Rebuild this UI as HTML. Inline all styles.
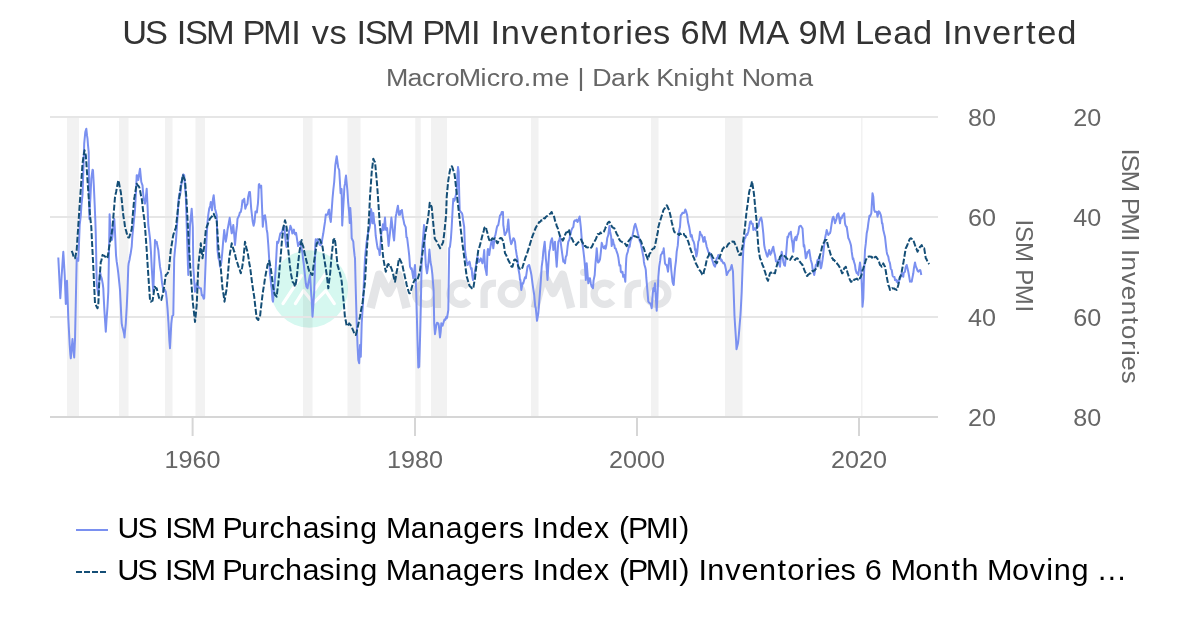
<!DOCTYPE html>
<html><head><meta charset="utf-8"><style>
html,body{margin:0;padding:0;background:#fff;}
svg{display:block;font-family:"Liberation Sans", sans-serif;will-change:transform;}
</style></head><body>
<svg width="1200" height="630" viewBox="0 0 1200 630">
<rect width="1200" height="630" fill="#fff"/>
<g>
<circle cx="309.3" cy="289" r="38.7" fill="#d6f8f0"/>
<g stroke="#ffffff" stroke-width="3.2" stroke-linecap="round" stroke-linejoin="round" fill="none">
<polyline points="283,303.6 301.4,275.7"/>
<polyline points="295.4,303.6 303.6,290.7 312.1,301.4"/>
<polyline points="314.6,290 325,274.3"/>
<polyline points="314.6,302 325.7,290.7 334.3,303.6"/>
</g>
<g fill="none" stroke="#e4e5e7" stroke-width="7.3" stroke-linejoin="round" stroke-linecap="butt"><polyline stroke-width="8.6" points="370.6,308.0 379.1,274.7 388.6,293.0 398.1,274.7 406.6,308.0"/><circle cx="426.2" cy="293.75" r="10.60"/><line x1="437.4" y1="279.5" x2="437.4" y2="308.0"/><path d="M468.6,286.7 A10.60,10.60 0 1 0 468.6,300.8"/><path d="M484.1,308.0 L484.1,292.6 Q484.1,283.1 496.0,283.1"/><circle cx="511.8" cy="293.75" r="10.60"/><polyline stroke-width="8.6" points="535.1,308.0 543.6,274.7 553.1,293.0 562.6,274.7 571.1,308.0"/><line x1="583.6" y1="279.5" x2="583.6" y2="308.0"/><circle cx="583.6" cy="272.3" r="3.6" fill="#e4e5e7" stroke="none"/><path d="M612.6,286.7 A10.60,10.60 0 1 0 612.6,300.8"/><path d="M628.1,308.0 L628.1,293.4 Q628.1,283.1 641.0,283.1"/><circle cx="657.2" cy="293.75" r="10.60"/></g>
</g>
<rect x="67" y="118" width="12.0" height="298" fill="#000" fill-opacity="0.05"/><rect x="119" y="118" width="9.6" height="298" fill="#000" fill-opacity="0.05"/><rect x="165" y="118" width="7.6" height="298" fill="#000" fill-opacity="0.05"/><rect x="195.4" y="118" width="9.6" height="298" fill="#000" fill-opacity="0.05"/><rect x="303" y="118" width="9.6" height="298" fill="#000" fill-opacity="0.05"/><rect x="347.4" y="118" width="13.2" height="298" fill="#000" fill-opacity="0.05"/><rect x="415.2" y="118" width="5.6" height="298" fill="#000" fill-opacity="0.05"/><rect x="431" y="118" width="16.0" height="298" fill="#000" fill-opacity="0.05"/><rect x="531" y="118" width="7.6" height="298" fill="#000" fill-opacity="0.05"/><rect x="651" y="118" width="7.6" height="298" fill="#000" fill-opacity="0.05"/><rect x="725" y="118" width="17.6" height="298" fill="#000" fill-opacity="0.05"/><rect x="861" y="118" width="1.6" height="298" fill="#000" fill-opacity="0.05"/>
<g stroke="#e6e6e6" stroke-width="2">
<line x1="50" y1="117" x2="938" y2="117"/><line x1="50" y1="217" x2="938" y2="217"/><line x1="50" y1="317" x2="938" y2="317"/>
</g>
<line x1="50" y1="417" x2="938" y2="417" stroke="#d6d6d6" stroke-width="2"/>
<g stroke="#d6d6d6" stroke-width="2">
<line x1="192.6" y1="417" x2="192.6" y2="436"/><line x1="415" y1="417" x2="415" y2="436"/><line x1="637" y1="417" x2="637" y2="436"/><line x1="859" y1="417" x2="859" y2="436"/>
</g>
<polyline points="58.3,257.5 59.23,275.98 60.3,298.3 61.08,286.17 61.7,275 62.93,256.73 63.3,251.7 63.86,260.45 64.7,275 65.8,304 66.63,286.39 67,280.8 67.56,296.48 68.3,318 69.7,345 70.34,354.49 70.8,358.3 71.26,353.71 72.5,339 73.12,347.36 74.2,357.5 75,340 75.89,297.43 76.7,258.3 77.75,260.57 78.3,260.8 78.67,251.58 79.7,225 80.8,215.3 81.45,204.87 82.5,195 83.3,172.17 84.2,143.7 85.3,132 86.3,128.7 87.01,135.39 87.5,138.7 87.93,144.29 88.7,152 89.4,219 89.78,208.23 90.4,198 91.3,178.7 92.56,169.67 93,170.3 93.8,185 94.7,205 95.34,221.03 95.8,235 96.27,259.26 96.7,283.3 97.19,287.39 98.3,295 99.04,284.73 100,271.7 100.9,276.01 101.7,278.3 102.75,283.82 103.3,288.3 103.67,296.44 104.2,306.7 104.6,313.58 105.8,331.7 106.45,321.05 107.5,306.7 108.3,291.7 109.23,239.08 109.6,214.3 110.5,232 111.08,237.55 111.5,240 112.01,239.88 112.5,236 112.93,230.23 113.5,225 113.86,221.12 114.3,219 115,232 116,255 116.7,261.7 117.56,267.41 118.3,273.3 119.42,284.09 120,290 121.27,315.85 121.7,323.3 122.19,326.2 123.12,329.79 124.05,333.67 124.5,337.5 124.97,331.51 125.8,323.3 126.82,305.2 127.5,290 128.3,266.7 128.68,263.2 129.6,259.43 130,256.7 130.53,254.28 131.7,246.7 132.38,235.94 133.3,227 134.23,217.76 135,210 136.08,189.96 136.7,175.3 137.94,175.71 138.3,180 138.86,175.75 140,168.7 140.71,175.83 141.3,182 142.5,185.3 143.7,200 144.42,200.74 145,203.7 146.27,193.29 146.7,188.7 147.5,205.3 148.3,225 149.05,230.75 150,238.3 150.9,250.99 151.7,266.7 152.75,284.46 153.3,291.7 153.68,281.28 154.6,253.56 155,240 155.53,242.83 156.7,241.7 157.38,245.82 158.3,250 159.23,259.37 160,266.7 161.09,272.85 162.01,282.93 162.94,287.98 163.3,291.7 163.86,290.98 164.79,289.68 165.8,291.7 166.64,298.37 167.5,308.3 168.49,323.35 169.42,341.08 170,348.3 171.27,323.87 171.7,320 172.2,316.11 173.3,315 174.2,258.3 174.98,249.9 175.9,241.34 176.7,230 177.75,213.6 178.3,203.7 178.68,198.78 179.61,193.22 180,195.3 180.53,191.98 181.46,183.45 182.5,177 183.31,174.4 184.2,175.3 185.16,188.89 185.8,195.3 186.7,225 187.94,265.51 188.3,275 188.87,258.6 190,225 190.72,218.51 191.7,208.7 192.8,227 193.3,266.7 194.42,283.89 195,291.7 196.27,287.96 196.7,283.3 197.2,285.05 198.13,286.29 199.05,287.74 200,288.3 200.9,288.21 201.83,295.26 202.5,295 203.68,298.82 204.2,298.3 204.61,288.95 205.8,258.3 206.46,241.05 207.5,222 208.31,214.63 209.2,208.7 210.16,206.01 210.8,202 212,210.3 212.94,199.09 213.7,195.3 215,208.7 215.72,211.2 216.7,215.3 217.5,250 218.5,258.3 219.42,260.75 220,266.7 221.28,262.97 221.7,258.3 222.2,253.5 223.13,241.89 224.2,230 224.98,236.22 225.8,241.7 226.83,235.64 227.5,230 228.68,223.63 229.7,217.8 230.8,227 231.7,233.3 232.39,231.56 233.3,225 234.24,235 235,245 236.09,232.85 237.02,225.44 237.5,218.7 237.94,217.85 239.2,215.3 239.8,212.66 240.8,212 241.65,207.68 242.5,200.3 243.5,201.7 244.2,198.7 245.3,208.7 246.28,205.77 247.5,203.7 248.13,197.16 249.2,192 250,192 251.2,208.6 251.83,214 252.6,221 253.6,225.7 254.5,221.9 255.5,211.4 256.46,211.85 256.9,212.4 257.39,207.71 257.9,203.8 258.32,197.27 258.8,184.8 259.24,184.04 260.2,187.6 261.2,185.7 262.1,208.6 262.8,226.7 263.8,216.2 265,215.2 266,221.9 266.65,229.21 267.4,233.3 268.3,245 269.43,262.88 270,275 270.35,276.51 271.28,286.02 271.7,288.3 272.5,300 273,301.7 274.2,288.3 274.98,279.52 275.8,266.7 276.4,255 277.1,241.7 277.76,243.41 278.3,242.3 278.69,241.13 279.61,236.68 280.3,233.4 281.5,232.8 282.39,230.2 283.1,227.7 284.2,226 285.3,238 286.1,244.89 286.5,247 287.02,245.67 287.5,245 287.95,241.5 289.1,230.9 289.8,229.07 290.4,225.8 291.4,228.3 292.3,233.4 293.5,230.54 293.9,229.6 294.43,233.15 294.9,234 295.36,234.45 296.1,232.8 297.4,241.7 298.13,245.99 298.7,243.6 299.06,243.55 299.9,241.7 301.2,248 301.84,249.77 302.5,253 303,258.3 303.69,263.45 304.2,268.3 304.62,272.18 305.8,283.3 306.47,286.74 307.5,288.3 308.32,283.22 309,280 310,275 311.1,291.76 311.7,300 312.5,316.7 313,310 314.2,291.7 314.8,269.08 315.3,245 315.73,239.37 316.7,240 317.58,239.14 318.3,241.7 319.43,244.29 320,245 320.36,245.28 321.28,244.1 321.7,243.3 322.21,239.42 323.3,233.3 324.2,227 324.99,221.89 325.8,214.5 326.84,214.95 327.5,214.5 328.69,210.16 329.2,209.5 329.62,216.65 330.8,222 331.47,213.39 332.5,198.7 333.32,189.74 334.2,182 335.3,165.3 336.1,159.94 336.7,156.2 338.2,167.5 339.2,170 339.8,179.65 340.6,193.2 341.6,189 342.2,225.6 342.58,218.87 343.6,201.3 344.43,186.45 345,183.7 345.36,180 346,175.6 347.4,190.5 348.14,202.05 348.7,208 349.06,211.55 349.7,222.9 350.3,208 351.2,222 351.7,238.3 352.77,240.46 353.3,241.7 353.69,247.07 354.62,255.96 355,258.3 355.55,281.56 356.7,323.3 357.5,345 358.3,360 359.2,363.3 360,345 360.8,356.7 361.7,323.3 363.3,298.3 363.88,281.93 365,258.3 365.73,250.59 366.7,241.7 367.58,235.63 368.3,231.7 369.44,228.22 370,225 370.36,220.95 371,209 371.9,213.8 372.4,223.3 373.3,212.9 374.3,223.3 374.99,225.14 375.7,235.7 377.1,245.2 377.77,248.63 379,250 379.7,255 380.5,245 381,237.6 381.47,231.97 382.4,228.89 382.9,224.3 383.33,224.61 383.8,230 384.25,225.61 385,217.6 385.7,228.1 386.1,230.01 387.1,228.1 387.96,238.08 388.6,246 390,232.9 390.73,225.18 391.4,217.6 392.9,231 393.51,237.12 394.1,240.5 395.7,216.7 396.29,213.98 397.22,208.98 397.9,205.7 399,214.8 399.99,214.74 400.5,211 400.92,212.38 401.9,210 402.9,217.6 403.7,220.95 404.3,224.3 405.7,227.1 406.48,237.31 407.1,237.6 408.6,250 409.25,255.97 410,266.7 411.11,269.2 411.7,268.3 413.3,278.3 413.88,273.31 415,265 415.74,280.55 416.2,290 416.66,308.9 417.5,340 418.3,367.5 419.2,366.7 420,340 420.37,325.12 420.8,306.7 421.29,281.26 421.7,258.3 422.22,248.31 423.3,235 424,225 424.6,244.8 425,249.05 425.8,265 427,273.3 427.77,268.45 428.5,262 429.4,249.5 430.5,262 431.48,266.89 432.4,274.5 433.6,290 434.2,323.3 435,334.2 436.3,325 437.03,322.73 438.3,323.3 438.89,325.84 440,337.5 440.74,331.46 441.3,323.3 441.66,324.49 442.59,325.66 443.3,323.3 444.44,319.58 445,320 445.37,319.63 446.29,316.88 446.7,318.3 447.22,316.83 448.3,310 449.2,248.3 450,246.7 450.92,238.54 451.7,227 452.78,206.54 453.3,198.7 453.7,201.2 454.63,200.28 455,198.7 455.55,196.23 456.7,192 457.41,175.27 458,167 458.7,172 459.26,195.62 459.7,210.3 460.18,210.89 460.8,212 462.04,213.43 462.5,215.3 462.96,219.12 464.2,227 465,250 465.74,255.75 466.7,261.7 467.59,264.99 468.3,263.3 469.44,261.67 470,263.3 470.37,266.21 471.3,269.49 471.7,268.3 472.22,275.32 473,280 474.2,275 475,270.56 475.8,266.7 476.85,259.32 477.5,256.7 478.7,261.87 479.2,261.7 479.63,260.97 480.8,258.3 481.48,260.5 482.5,263.3 483.33,259.05 484.2,250 485,266.7 486.11,271.71 486.7,275 487.5,251.7 487.96,248.93 489.2,255 489.82,250.53 490.8,245 491.67,240.35 492.5,241.7 493.3,248.3 494.7,236.7 495.37,235.19 496.3,230.5 496.7,228.3 497.22,226.24 498.3,225 499.08,220.56 500,215.3 500.93,214.83 501.7,212 503,212 503.3,225 503.71,227.51 504.63,234.96 505,235 505.56,233.82 506.7,231.7 507.41,227.95 508.3,219.5 509.26,232.52 510,238.3 511.11,244.15 511.7,243.3 513.3,238.3 513.89,238.41 515,241.7 515.74,248.93 516.7,255 517.6,259.45 518.3,268.3 519.45,274.47 520,280 520.37,279.74 521.3,290 522.5,283.3 523.15,283.74 524.2,280 525,277.17 525.8,278.3 526.86,271.07 527.5,266.7 528.71,265.18 529.2,265 529.63,266.77 530.8,271.7 531.49,275.43 532.5,283.3 533.34,289.44 534.2,295 535.19,306.1 535.8,308.3 537,320.8 538.3,313.3 538.89,305.82 540,291.7 540.75,281.58 541.7,266.7 542.6,259.88 543.3,251.7 544.7,241.7 545.38,251.58 545.8,258.3 546.3,262.69 547.5,280 548.15,268.22 549.2,251.7 550.01,248.38 550.8,241.7 552,238.3 552.78,242.72 553.3,250 553.71,247.04 554.64,245.09 555,241.7 555.56,251.23 556.7,266.7 557.41,255.56 558.3,241.7 559.27,240.15 560,236.7 561.12,245.71 561.7,250 563.3,261.7 563.9,260.37 565,263.3 565.75,257.15 566.7,255 567.6,246.5 568.3,241.7 569.45,239.31 570.38,233.81 570.8,233.3 571.3,230.59 572.23,228.46 573.3,227 574.08,221.47 575,220.3 575.93,220.75 576.86,219.68 577.5,222 578.71,219.59 579.2,217.8 579.64,216.54 580.8,227 581.7,238.3 582.42,244.06 583.3,250 584.27,258.48 585,266.7 585.8,280 586.7,263.3 588.3,283.3 588.9,278.43 590,278.3 590.75,283.17 591.7,286.7 592.6,287.37 593,288.3 593.53,280.6 594.7,275 595.38,264.52 596.31,254.03 596.7,248.3 597.23,254.05 597.8,261.7 598.16,262.57 599.08,261.55 600,259.4 600.94,251.33 601.7,242.8 602.8,246.1 603.9,248.3 604.64,247.34 605,246.1 605.57,248.74 606,247 606.49,244.49 607.2,238.3 608.3,235 609.4,226.1 610.2,232 610.6,233.9 611.12,236.36 611.7,246.1 612.8,239.4 613.9,244.68 614.4,245 614.83,248.34 615.75,248.46 616.7,251.7 617.6,254.06 618.3,257.2 619.46,265.61 620,265 620.38,265.39 620.8,271.7 621.31,272.45 622.5,271.7 623.16,276.86 624.2,275 625.3,281.7 625.94,265.29 626.3,258.3 626.7,255 627.79,251.69 628.9,246.1 629.64,246.86 630.57,240.83 631.1,239.4 631.49,238.92 632.42,236.22 633.3,231.7 634.27,226.46 635.3,223.9 636.12,226.66 637.2,230.6 637.98,234.08 638.9,237.2 639.83,241.58 640.6,242.8 641.68,248.01 642.2,250.6 642.61,252.94 643.53,257.67 643.9,261.7 644.5,265 645.38,267.83 645.8,270 646.31,277.94 647.5,291.7 648.3,301.7 649.09,302.6 650,303.3 650.94,304.7 651.7,308.3 652.79,293.3 653.3,288.3 653.72,291.34 654.64,286.17 655,283.3 655.57,293.54 656.7,310.8 657.5,295 658.35,276.73 659.2,266.7 660.2,260.38 660.8,255 662.05,253.34 662.5,251.7 662.98,253.04 663.7,248.3 665,263.3 665.76,264.74 666.7,265 667.61,269.57 668,271.7 668.53,266.57 669.2,258.3 670.39,258.9 670.8,263.3 671.31,270.49 672.5,281.7 673.16,284.05 673.7,285 674.09,278.87 675,268.3 675.94,261.22 676.7,251.7 677.79,245.43 678.3,238.3 678.72,233.26 679.65,228.29 680,227 680.8,215.3 681.5,214.74 682.5,212.8 683.35,213.09 684.2,212.8 685.3,209.5 686.13,211.35 686.7,213.7 687.05,214.4 688,222 689.2,227 690,231.7 690.76,236.56 691.7,235 692.61,239.71 693.7,241.7 694.46,244.65 695,250 695.39,248.99 696.31,256.59 696.7,255 697.24,252.09 698.3,241.7 699.09,239.95 700,231.7 700.94,234.83 701.7,235 702.8,238.19 703.3,241.7 703.72,241.7 704.65,236.9 705,240 705.57,241.07 706.7,246.7 707.43,248.87 708.3,251.7 709.28,253.46 710,253.3 711.13,255.46 711.7,258.3 712.06,259.21 713.3,263.3 713.91,265.25 715,266.7 715.76,263.55 716.7,258.3 717.61,257.44 718.3,255 719.46,257.59 720,258.3 720.39,258.17 721.32,260.88 721.7,260 722.24,261.2 723.3,263.3 724.09,262.77 725,265 725.95,269.56 726.7,275 727.8,272.73 728.3,271.7 728.72,271.1 730,270 730.58,268.56 731.7,265 732.43,268.75 733,271.7 733.35,282.44 734.5,316 735.21,327.5 736.13,341.08 736.5,349.2 737.06,347.03 737.98,343.31 738.4,339.5 738.91,334.2 739.84,322.32 740.4,316 740.76,309.95 741.7,291.7 742.61,266.33 743.3,250 744.47,238.94 745,238.3 745.39,237.63 746.32,234.25 746.7,235 747.24,235.06 748.3,231.7 749.2,227 750,222 750.95,221.21 751.7,223.7 752.8,223.83 753.3,230 753.73,227.91 755,228.3 755.58,230.28 756.7,226.7 757.43,226.09 758.3,226.7 759.2,222 760,219.2 761.13,217.54 761.7,220 762.06,221.77 763.3,233.3 764.2,245 764.84,248.51 765.8,251.7 766.69,255.11 767.5,256.7 768.54,252.88 769.2,250 770.39,254.84 770.8,253.3 771.32,253.06 772.25,249.45 773.3,246.7 774.1,251.55 775,255 775.95,261.39 776.7,261.7 777.8,262.08 778.3,260 778.73,263.32 780,266.7 780.58,259.85 781.7,251.7 782.43,256.04 783.3,261.7 784.28,265.24 785,265.8 786.3,251.7 787.06,241.7 787.5,236.7 787.99,237.43 789.2,233.3 789.84,233.61 790.8,231.7 791.69,239.24 792.5,243.3 793.3,251.7 794.2,240 795.4,237.19 795.8,236.7 796.32,240.25 797.5,235 798.17,233.69 799.2,226.7 800.03,225.89 800.8,225.8 801.88,227.53 802.5,228.3 803.3,240 803.73,246.54 804.2,245 804.66,248.24 805.8,258.3 806.51,256.95 807.5,251.7 808.36,252.41 809.2,250 810.21,256.34 810.8,260 812.06,264.3 812.5,268.3 812.99,270.53 814.2,275 814.84,271.56 815.8,265 816.69,264.18 817.5,260 818.55,259.22 819.2,256.7 820.4,265.42 820.8,268.3 821.32,267.11 822.5,260 823.18,254.9 824.2,245 825,238.3 825.95,233.97 826.7,230 827.81,233.54 828.3,235 828.73,234.18 830,233.3 830.58,230.96 831.7,223.3 832.44,218.58 833.3,216.7 834.29,219.53 835,223.3 836.14,219.96 836.7,218.3 837.07,214.81 838.3,213.3 838.92,216.24 840,223.3 840.77,217.82 841.7,218.3 842.62,215.31 843.3,215 844.2,213.3 845,223.3 845.4,225.01 846.33,226.86 846.7,226.7 847.25,230.51 848.3,238 849.1,239.52 850,242 850.96,245.19 851.7,251.7 852.81,259.2 853.3,258.3 853.73,260.84 855,265 855.59,269.61 856.7,273.3 857.44,272.67 858.3,275 859.29,267.42 860,262.5 861.3,273.3 862.07,291.76 862.5,306.7 863.3,298.3 864.2,268.3 865,250 865.77,243.67 866.7,233.3 867.62,229.02 868.3,223.3 869.48,215.7 870,216.7 870.4,215.57 871.3,213.3 872.5,193.3 873.3,196.7 874.2,210 875.03,211.89 875.8,211.7 876.88,212.07 877.5,216.7 878.74,211.31 879.2,213.3 879.66,212.09 880.8,215 881.51,218.93 882,223.3 882.44,223.32 883.3,230 884.29,234.14 885,237 886.14,247.29 886.7,251.7 887.07,253.87 888.3,256.7 888.92,260.24 890,263.3 890.77,268.75 891.7,270 892.63,275.74 893.3,276.7 894.48,276.89 895,280 895.4,279.6 896.33,279.63 896.7,281.7 897.26,280.53 898.3,283.3 899.11,280.79 900,278.3 900.96,275.49 901.7,273.3 902.81,276.45 903.3,276.7 903.74,272.87 905,271.7 905.59,267.39 906.7,265 907.44,268.07 908.3,271.7 909.29,277.23 910,281.7 911.15,281.2 911.7,281.7 912.07,279.65 913.3,273.3 913.92,268.12 915,262.5 915.78,266.27 916.7,268.3 917.63,270.84 918.3,271.7 919.48,270.38 920,270 920.41,270.49 921.3,275" fill="none" stroke="#7a90f0" stroke-width="2" stroke-linejoin="round"/>
<polyline points="71.7,250.8 72.63,253.08 73.3,255.8 74.48,257.72 75,258.3 75.4,256.83 76.33,251.55 76.7,250 77.26,240.78 78,230 79.11,213.35 80,200 80.96,186.3 81.89,173.16 82.5,163.7 83.74,154.8 84.5,150.3 85.8,155.3 86.52,165.18 87.5,180.3 88.37,192.8 89.29,205.65 90,215.3 91.3,227 92.07,243.09 93.3,266.7 93.92,280.63 95,303.3 95.78,304.8 96.7,306.7 97.5,308.3 98.3,305 99.2,283.3 100.41,266.88 100.8,261.7 101.33,260.89 102.5,255 103.18,255.32 104.11,255.7 105,256.7 105.96,256.75 106.89,257.96 107.5,258.3 108.74,249.91 109.2,246.7 109.67,244.03 110.59,239.21 111.7,233.3 112.5,227 113.37,216.7 114.3,205.79 115,197 116.15,191.74 117.07,186.61 118.3,180.3 118.93,182.33 119.85,187.91 120.8,192 121.7,199.72 122.63,208.97 123.3,215.3 124.48,222.7 125,227 125.41,228.51 126.33,231.55 126.7,233.3 127.26,234.35 128.19,237.45 129.2,237.5 130.04,234.63 130.96,231.92 131.7,229 132.82,214.81 133.74,204.11 134.2,198.7 134.67,196.22 135.59,190.29 136.7,183.7 137.45,184.87 138.37,185.96 139.2,187 140.22,191.29 141.15,196.41 141.7,198.7 142.08,201.3 143,210.05 144.2,218.7 145,227 145.78,237.3 146.7,250 147.63,264.91 148.3,275 149.48,292.41 150,300 150.41,301.35 150.8,301.7 151.34,301.12 152.5,300.8 153.19,296.89 154.11,290.39 154.7,286.7 155.97,288.34 156.7,288.3 157.82,293.08 158.74,296.55 159.2,298.3 159.67,298.29 160.6,299.81 161.3,300 162.45,295.47 163.3,291.7 164.3,285.84 165.23,278.65 165.8,275 166.15,274.88 167.08,273.8 168,272.63 168.7,271.7 169.86,259.86 170.8,250 171.71,244.64 172.63,238.7 173.3,235 174.49,231.17 175.41,228.89 175.8,228 176.34,223.41 177.26,215.46 178.3,205.3 179.12,199.26 180.04,191.89 180.8,185.3 181.89,180.72 183,175.3 183.75,177.51 185,180.3 185.6,188.07 186.3,197 187.5,218.7 188.38,235.21 189.2,250 190.23,266.95 190.8,275 191.15,279.69 192.08,292.2 192.5,298.3 193.01,304.08 193.93,312 195,322 195.78,314.65 196.7,305 197.64,283.03 198.3,266.7 199.49,255.01 200.41,248.13 200.8,243.3 201.34,248.95 202.5,258.3 203.19,253.67 204.2,246.7 205.04,238.27 205.8,230 206.7,227 207.82,224.24 208.75,221.41 210,218.7 210.6,217.83 211.53,216.82 212.45,215.94 213.7,213.7 214.3,215.38 215.23,217.1 216.16,219.78 216.7,220.3 217.08,226.22 218.3,246.7 218.93,252.57 219.86,260.73 220.8,268.3 221.71,278.88 222.5,288.3 223.56,294.53 224.5,301.7 225.42,295.67 226.34,290.6 226.7,288.3 227.27,281.75 228.19,271.15 229.2,258.3 230.05,252.72 230.97,247.67 231.7,243.3 232.82,247.4 233.75,250.11 234.2,251.7 234.68,252.19 235.6,257.03 236.53,261.04 237.5,263.3 238.38,266.47 239.31,268.31 240.23,271.37 240.8,273.3 241.16,271.51 242.08,267.71 243.3,260 243.94,253.46 245,241.7 245.79,244.91 246.71,249.33 247.5,251.7 248.57,258.06 249.49,264.58 250,266.7 250.42,269.63 251.34,276.98 251.7,280 252.27,284.17 253.2,290.71 254.2,296.7 255.05,304.35 255.97,312.18 256.7,318.3 257.5,319.2 258.3,320 258.75,318.21 260,316.7 260.6,311.1 261.53,303.11 262.5,295 263.38,288.84 264.31,283.22 265,278.3 266.16,271.96 267.09,267.6 267.5,265 268.01,263.78 269.2,260.8 269.86,263.75 270.8,268.3 271.72,275.69 272.64,283.25 273.3,288.3 274.49,293.43 275,295 275.42,295.18 276.35,296.23 276.7,296.7 277.27,291.23 278.3,283.3 279.12,274.41 280,263.3 280.98,252.54 281.7,243.3 282.83,232.42 283.3,228 283.75,225.7 285,220.3 285.61,222.43 286.7,228 287.46,238.51 288.3,250 289.31,260.02 290,266.7 291.16,274.76 292.09,279.35 292.5,281.7 293.01,282.34 293.94,283.36 295,286.7 295.79,283.49 296.7,278.3 297.64,268.6 298.3,261.7 299.5,251.47 300,248.3 300.42,246.33 301.35,240.91 301.7,240 302.27,244.14 303.3,246.7 304.13,251.09 305.05,255.12 305.8,258.3 306.9,262.63 307.83,265.35 308.3,268.3 308.76,269.58 310,273.3 310.61,272.94 311.53,274.64 312.5,275 313.39,266.84 314.31,260.05 315,255 316.16,247.6 316.7,243.3 317.09,243.48 318.02,240.55 319.2,239.2 319.87,239.48 320.8,241.7 321.72,244.85 322.5,246.7 323.57,254.44 324.2,258.3 325.42,265.98 326.35,272.31 326.7,275 327.28,279.44 328.3,288.3 329.13,281.23 330,275 330.98,263.13 331.7,255 332.83,245.01 333.3,240 333.76,239.79 334.7,238.3 335.8,246.7 336.54,255.65 337.5,265 338.39,267.9 339.31,270.95 340,273.3 341.17,278.57 341.7,281.7 342.09,285.71 343.3,298.3 343.94,305.11 345,318 345.8,320.86 346.7,326 347.65,325.32 348.57,324.7 349.2,323.3 350.43,325.04 351.7,326 352.28,328.35 353.2,330.52 354.2,333.3 355.06,333.85 355.8,335 356.91,330.68 357.5,328.3 358.76,322.27 360,316.7 360.61,312.86 361.54,307.61 362.5,303.3 363.39,294.98 364.32,287.82 365,282 366.17,261.26 366.7,251.7 367.09,246.12 368.3,230 368.95,218.17 370,197 370.8,185.35 371.7,172 372.65,164.39 373.3,158.7 374.5,161.64 375,162 375.43,166.2 376.7,180.3 377.28,187.18 378.3,202 379.13,214.61 380,227 380.98,235.16 381.7,241.7 382.84,254.14 383.3,258.3 383.76,260.95 384.69,266.24 385.8,271.7 386.54,269.17 387.5,265 388.39,263.96 389.32,265.36 390,265 391.17,267.8 392.1,270.24 392.5,271.7 393.02,273.57 393.95,277.88 395,281.7 395.8,277.44 396.7,271.7 397.65,267.1 398.58,260.8 399.2,258.3 400.43,260.46 401.7,263.3 402.28,264.44 403.21,269.28 404.2,273.3 405.06,277.62 405.99,281.28 406.7,285 407.84,288.9 408.76,291.97 409.2,293.3 409.69,293.31 410.8,291.7 411.54,288.36 412.5,285 413.39,282.63 414.32,280.63 415.1,279.3 416.17,280.44 417.1,280.34 417.5,279.9 418.02,277.9 418.95,274.64 419.9,271 420.8,264.78 421.73,258.38 422.3,254.3 422.65,251.81 423.58,245.51 424.6,238.8 425.43,233.21 426.36,228 427,224.5 428.2,217.4 429.14,209.11 429.7,202.8 430.06,203.83 430.99,205.54 431.7,207 432.84,218.83 433.6,226.9 434.8,238.8 435.62,239.99 436.5,241.2 437.47,243.32 438.3,244.8 439.32,246.46 440.1,248.3 441.17,246.31 441.9,244.8 443.1,242.4 444.3,232.9 444.88,227.27 446.1,215 446.7,197 447.66,186.65 448.3,180.3 449.51,172.8 450,170.3 450.43,168.75 451.7,166.2 452.29,167.03 453.21,170.15 454.2,172 455.06,178 455.8,185.3 456.92,195.01 457.5,200.3 458.77,211.18 459.2,215.3 459.69,219.53 460.8,230 461.55,236.02 462.47,243.94 463.3,250 464.32,258.05 465,263.3 466.18,272.5 466.7,276.7 467.1,277.73 468.03,281.04 469.2,285 469.88,286.35 470.81,286.92 471.7,288.3 472.66,287.73 473.3,288.3 474.51,280.55 475,278.3 475.44,273.9 476.7,263.3 477.29,257.72 478.3,250 479.14,248.08 480,245 480.99,241.21 481.92,237.21 482.5,235 483.77,230.72 484.2,228.3 484.7,227.48 485.8,226.7 486.55,229.98 487.5,233.3 488.4,237.25 489.2,240 490.25,240.34 490.8,241.7 491.18,240.17 492.1,238.63 492.5,238.3 493.03,238.75 493.96,238.95 495,238.3 495.81,239.3 496.73,242.29 497.5,243.3 498.59,240.94 499.51,239.08 500,238.3 500.44,238.02 501.7,238.3 502.29,239.39 503.3,241.7 504.14,246.54 505,253.3 505.99,254.79 506.92,256.52 507.5,258.3 508.77,261.09 510,263.3 510.62,265.19 511.55,266.77 512.5,266.7 513.4,262.98 514.2,260 515.25,259.48 516.18,260.43 516.7,260.8 517.11,261.55 518.03,265.79 519.2,268.3 519.88,268.83 520.81,268.52 521.7,269.2 522.66,266.78 523.59,263.8 524.2,261.7 525.44,257.56 526.7,255 527.29,252.77 528.22,249.84 529.2,246.7 530.07,243.79 531,240.73 531.7,238.3 532.85,235.1 533.77,232.92 534.2,231.7 534.7,230.27 535.63,228 536.7,226 537.48,225.51 538.4,223.45 539.2,222 540.26,221.68 541.18,220.18 542.11,220.42 542.5,220.3 543.03,220.18 543.96,218.19 544.89,218.46 545.8,217 546.74,216.12 547.66,215.83 548.59,214.88 549.2,214.5 550.44,213.37 551.7,212 552.29,213.79 553.22,214.84 554.2,217 555.07,220.92 556,223.08 556.7,226 557.85,228.41 558.3,230 558.78,232.06 560,236.1 560.63,236.58 561.55,238.41 562.8,240.6 563.41,239.51 564.33,237.31 565,235 566.18,232.41 567.11,232.22 568.04,231.58 568.9,229.4 569.89,233.89 570.6,236.1 571.74,238.34 572.67,240.08 573.3,241.7 574.52,242.99 575.44,243.65 576.1,245 577.3,243.46 578.22,242.41 578.9,241.7 580.07,240.4 581.1,239.4 581.93,241.68 582.85,242.87 583.3,243.9 583.78,243.73 584.7,246.08 585.63,246.11 586.1,247.2 586.56,247.07 587.48,247.43 588.41,247.52 588.9,247.8 589.33,247.07 590.26,246.97 591.19,247.71 592.2,246.1 593.04,244.15 593.96,242.57 595,240.6 595.82,239.21 596.74,236.8 597.8,233.9 598.59,234.14 599.52,234.02 600.45,232.43 601.1,233.3 602.3,232.18 603.22,232.15 603.9,231.7 605.08,228.84 605.6,227.2 606,227.04 606.93,224.78 607.8,222.8 608.78,222.01 609.4,221.7 610.63,224.14 611.56,225.83 612.2,227.2 613.41,227.93 614.4,228.3 615.26,230.74 616.19,232.48 616.7,233.9 617.11,234.34 618.04,236.2 618.97,239.06 619.4,239.4 619.89,240.53 620.82,241.31 621.7,241.7 622.67,242.52 623.6,242.89 624.4,242.8 625.45,244.3 626.7,246.1 627.3,244.93 628.23,241.76 628.9,240.6 630.08,239.07 631,237.68 631.7,237.2 632.86,237.09 633.78,236.06 634.4,236.1 635.63,236.45 636.56,237 637.8,237.2 638.41,238.62 639.34,238.67 640.6,240.6 641.19,241.57 642.12,244.71 643.3,247.2 643.97,248.59 644.89,252.07 645.6,253.9 646.75,256.48 647.8,259.4 648.6,257.13 649.52,253.71 650,253.3 650.45,252.78 651.7,250 652.3,249.34 653.23,248.51 654.2,248.3 655.08,245.71 655.8,241.7 656.93,236.46 657.5,233.3 657.86,232.24 658.3,227 658.78,225.6 659.71,222.14 660.8,218.7 661.56,216.19 662.49,213.83 663.3,210.3 664.34,208.76 665.27,207.63 666.19,206.31 666.7,205.3 667.12,205.68 668.04,208.05 669.2,210.3 669.9,213.31 670.82,217.27 671.7,222 673,227 673.6,229.79 674.2,231.7 675.45,232.83 676.7,233.3 677.3,233.75 678.23,233.89 679.2,235 680.08,233.4 681.01,234.01 681.7,233.3 682.86,234.04 683.79,233.88 684.2,235 684.71,235.65 685.64,236.14 686.7,238.3 687.49,239.97 688.3,241.7 689.34,245.23 690.27,248.41 690.8,250 691.19,251.16 692.12,253.62 693.3,256.7 693.97,257.9 694.9,260.73 695.8,263.3 696.75,264.94 697.68,266.93 698.3,268.3 699.53,270.11 700.8,271.7 701.38,272.78 702.31,274.51 703.3,275 704.16,270.33 705,268.3 706.01,263.57 706.7,260 707.86,256.79 708.79,255.54 709.2,253.3 709.71,254.12 710.64,253.45 711.7,255 712.49,256.78 713.42,258.18 714.2,260 715.27,261.91 716.2,262.11 716.7,263.3 717.12,262.41 718.05,260.54 719.2,258.3 719.9,256.4 720.83,253.72 721.7,251.7 722.68,248.83 723.6,248.12 724.2,246.7 725.46,247.2 726.7,246.7 727.31,245.84 728.23,244.11 729.2,243.3 730.09,242.83 731.01,242.42 731.7,241.7 732.86,241.61 733.79,241.69 734.2,241.7 734.72,243.47 735.8,245 736.57,246.7 737.5,250 738.42,252.43 739.2,255 740.27,254.05 740.8,255 741.2,252.71 742.12,248.17 742.5,246.7 743.05,241.88 744.2,233.3 745,227 745.83,218.52 746.7,210.3 747.68,204.02 748.61,196.25 749.2,192 750.46,187.09 751.38,184.68 752,181.2 753.24,189.02 753.7,192 754.16,195.86 755,205.3 756.01,215.46 756.7,222 757.5,236 757.87,240.43 758.3,246.7 758.79,250.88 760,258.3 760.64,259.4 761.57,262.22 762.5,265 763.42,266.67 764.35,270 765,271.7 766.2,275.85 766.7,278.3 767.13,279.09 768,280.8 768.98,276.94 770,273.3 770.83,272.46 771.76,272.65 772.5,271.7 773.61,272.88 774.53,273.03 775,273.3 775.46,271.01 776.39,267.22 777.5,263.3 778.24,261.49 779.16,260.1 780,256.7 781.02,255.78 781.94,254.99 782.5,255 782.87,254.9 783.79,255.33 785,256.7 785.65,256.86 786.57,258.17 787.5,259.2 788.42,260.21 789.35,259.79 790,260 791.2,258.16 792.13,256.38 792.5,256.7 793.05,257.54 793.98,258.64 795,260 795.83,258.82 796.76,258.26 797.5,258.3 798.61,259.79 799.54,261.58 800,261.7 800.46,262.62 801.39,263.63 802.5,265 803.24,266.82 804.17,269.63 805,271.7 806.02,273.36 806.94,275.97 807.5,275.8 807.87,274.86 808.8,274.32 810,273.3 810.65,273.29 811.57,271.59 812.5,270.8 813.43,271.22 814.35,270.19 815,270 816.2,268.48 817.13,267 817.5,266.7 818.06,263.41 818.98,259.28 820,255 820.83,252.77 821.76,248.28 822.5,245 823.61,243.08 824.54,241.4 825,240 825.46,240.28 826.7,240 827.32,243.09 828.3,246.7 829.17,249.45 830.09,252.54 830.8,255 831.95,257.78 832.87,258.97 833.3,260 833.8,259.67 834.72,260.86 835.8,261.7 836.58,262.45 837.5,264.25 838.3,265 839.35,266.75 840.28,268.43 840.8,270 841.21,270.62 842.13,273.36 842.5,273.3 843.06,271.63 844.2,268.3 844.91,267.67 845.8,266.7 846.76,269.9 847.69,273.12 848.3,275 849.54,278.79 850.8,281.7 851.39,281.81 852.32,279.36 853.3,279.2 854.17,279.88 855.1,279.2 855.8,279.2 856.95,278.63 857.87,279.65 858.3,278.3 858.8,277.9 859.73,278.36 860.8,276.7 861.58,274.57 862.5,270.46 863.3,268.3 864.36,265.04 865.28,262.09 865.8,260 866.21,259.4 867.13,257.08 868.3,256.7 868.99,256.53 869.91,256.6 870.8,256.7 871.76,256.76 872.69,258.82 873.3,258.3 874.54,257.38 875.8,256.7 876.39,257.29 877.32,258.56 878.3,260 879.17,262.17 880,265 881.02,265.64 881.7,266.7 882.88,264.25 883.3,263.3 883.8,264.46 885,266.7 885.65,270.29 886.7,276.7 887.51,280.84 888.3,285 889.36,287.42 890,290 891.21,289.44 892.14,288.17 892.5,288.3 893.06,288.61 893.99,288.38 895,289.2 895.84,289.34 896.7,290 897.69,287.01 898.3,285 899.54,278.32 900,276.7 900.47,276.55 901.7,271.7 902.32,268.42 903.3,263.3 904.17,258.02 905.1,252.13 905.8,248.3 906.95,246.06 907.88,243.51 908.3,241.7 908.8,241.16 909.73,239.07 910.8,238.3 911.58,238.58 912.51,239.77 913.3,240 914.36,243.26 915.29,246 915.8,248.3 916.21,248.53 917.14,250.59 917.5,251.7 918.06,250.58 919.2,248.3 919.92,247.03 920.84,246.14 921.7,245 922.69,247.71 923.62,248.42 924.2,248.3 925.8,258.3 926.4,258.98 927.5,261.7 928.25,262.97 929.2,264.2" fill="none" stroke="#144e76" stroke-width="2" stroke-dasharray="6,2" stroke-linejoin="round"/>
<line x1="76" y1="530" x2="108" y2="530" stroke="#7a90f0" stroke-width="2"/>
<line x1="76" y1="572" x2="106" y2="572" stroke="#144e76" stroke-width="2" stroke-dasharray="6,2"/>
<text transform="scale(1.0443,1)" x="117.01 138.87 159.87 169.26 177.08 197.29 224.53 232.23 251.95 278.84 288.22 298.50 315.55 332.06 341.45 349.28 369.50 396.73 404.42 424.15 451.03 460.42 469.81 479.45 499.16 516.72 535.86 556.16 566.95 586.31 598.68 606.87 625.20 641.71 651.74 670.15 697.38 706.32 733.67 754.52 764.55 782.96 810.20 818.75 836.44 855.25 874.37 893.55 902.94 912.58 932.28 949.86 969.25 982.47 993.31 1012.46" y="44" font-size="32.96" fill="#333333">US ISM PMI vs ISM PMI Inventories 6M MA 9M Lead Inverted</text>
<text transform="scale(1.0842,1)" x="356.05 375.79 389.35 401.81 410.13 423.03 443.21 448.93 461.39 469.51 483.05 490.48 511.50 525.28 532.74 539.75 546.32 563.66 577.76 586.65 599.33 605.30 620.93 635.16 641.12 655.17 669.97 677.81 684.12 701.22 715.36 736.34" y="86" font-size="24.72" fill="#666666">MacroMicro.me | Dark Knight Noma</text>
<text transform="scale(1.0406,1)" x="158.18 171.61 185.07 198.52" y="468" font-size="24.20" fill="#666666">1960</text>
<text transform="scale(1.0406,1)" x="371.90 385.33 398.79 412.24" y="468" font-size="24.20" fill="#666666">1980</text>
<text transform="scale(1.0406,1)" x="585.23 598.67 612.12 625.58" y="468" font-size="24.20" fill="#666666">2000</text>
<text transform="scale(1.0406,1)" x="798.57 812.00 825.46 838.91" y="468" font-size="24.20" fill="#666666">2020</text>
<text transform="scale(1.0406,1)" x="930.21 943.65" y="126" font-size="24.20" fill="#666666">80</text>
<text transform="scale(1.0406,1)" x="1031.40 1044.84" y="126" font-size="24.20" fill="#666666">20</text>
<text transform="scale(1.0406,1)" x="930.21 943.65" y="226" font-size="24.20" fill="#666666">60</text>
<text transform="scale(1.0406,1)" x="1031.40 1044.84" y="226" font-size="24.20" fill="#666666">40</text>
<text transform="scale(1.0406,1)" x="930.21 943.65" y="326" font-size="24.20" fill="#666666">40</text>
<text transform="scale(1.0406,1)" x="1031.40 1044.84" y="326" font-size="24.20" fill="#666666">60</text>
<text transform="scale(1.0406,1)" x="930.21 943.65" y="426" font-size="24.20" fill="#666666">20</text>
<text transform="scale(1.0406,1)" x="1031.40 1044.84" y="426" font-size="24.20" fill="#666666">80</text>
<g transform="translate(1016,0) rotate(90)"><text transform="scale(0.9698,1)" x="226.44 233.13 249.62 271.08 277.67 293.74 314.94" y="0" font-size="24.72" fill="#666666">ISM PMI</text></g>
<g transform="translate(1122,0) rotate(90)"><text transform="scale(1.0516,1)" x="141.23 147.03 162.06 182.39 188.09 202.76 222.84 229.83 236.83 243.98 258.66 271.73 285.99 301.14 309.15 323.58 332.82 338.88 352.53" y="0" font-size="24.72" fill="#666666">ISM PMI Inventories</text></g>
<text transform="scale(1.0445,1)" x="112.46 131.57 149.95 158.16 165.02 182.69 206.51 213.02 230.95 247.88 258.06 273.11 289.82 305.83 320.54 327.95 344.95 361.72 369.55 393.32 410.03 426.74 443.45 460.21 477.18 487.27 501.71 509.93 518.36 535.36 551.89 568.64 584.03 592.73 601.21 618.48 642.00 650.37" y="538" font-size="28.84" fill="#000000">US ISM Purchasing Managers Index (PMI)</text>
<text transform="scale(1.0637,1)" x="110.25 129.03 147.19 155.24 161.88 179.19 202.73 209.02 226.65 243.34 253.29 268.06 284.47 300.20 314.72 321.91 338.60 355.15 362.69 386.10 402.51 418.92 435.34 451.79 468.52 478.38 492.62 500.69 508.90 525.59 541.82 558.29 573.46 581.99 590.23 607.15 630.39 638.60 648.72 656.78 664.99 681.94 697.01 713.45 730.97 740.17 756.85 767.51 774.46 790.23 804.46 813.01 829.57 837.12 860.51 876.92 894.43 903.92 920.45 927.99 951.39 968.05 983.49 990.68 1007.37 1023.93 1030.86" y="580" font-size="28.84" fill="#000000">US ISM Purchasing Managers Index (PMI) Inventories 6 Month Moving …</text>
</svg>
</body></html>
